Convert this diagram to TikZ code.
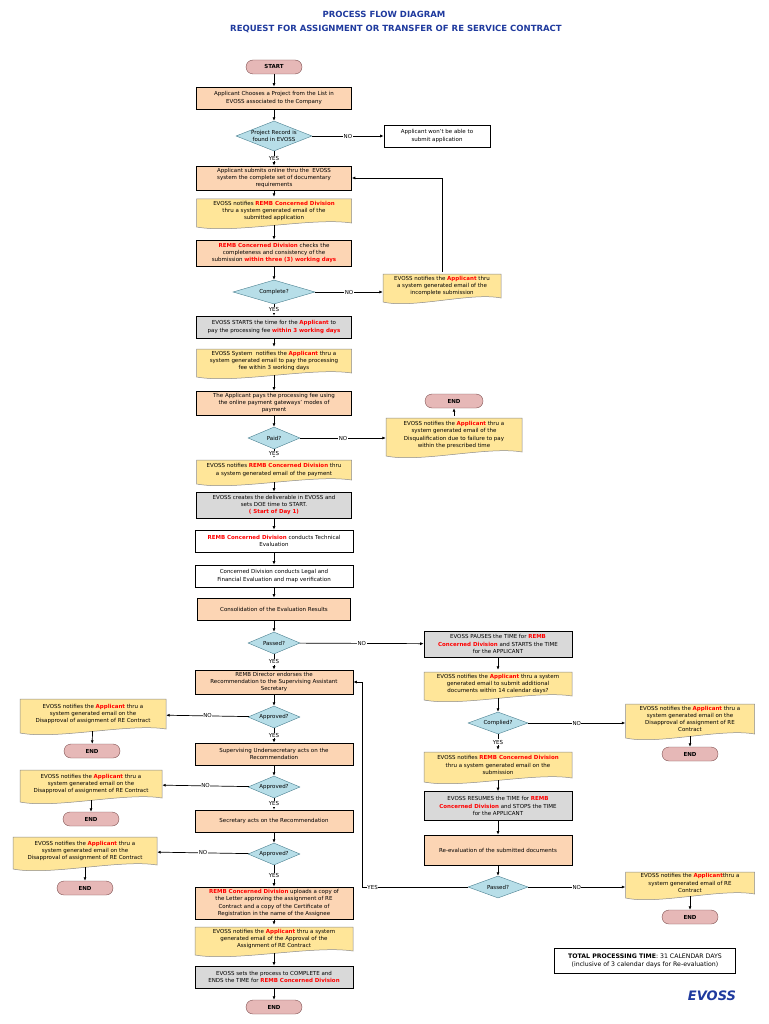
\documentclass[tikz,border=0pt]{standalone}
\usepackage{fontspec}
\setmainfont{DejaVu Sans}
\usepackage{xcolor}
\usetikzlibrary{arrows.meta,positioning,shapes.geometric,calc}
\definecolor{procfill}{HTML}{FCD5B4}
\definecolor{docfill}{HTML}{FFE699}
\definecolor{docline}{HTML}{8C8C8C}
\definecolor{greyfill}{HTML}{D9D9D9}
\definecolor{termfill}{HTML}{E6B8B7}
\definecolor{termline}{HTML}{7F5050}
\definecolor{decfill}{HTML}{B7DEE8}
\definecolor{decline}{HTML}{4A7F8F}
\definecolor{titleblue}{HTML}{1F3A9E}
\definecolor{hlred}{HTML}{FF0000}
\newcommand{\hl}[1]{\textcolor{hlred}{\textbf{#1}}}
\newcommand{\docnode}[5]{%
  \begin{scope}[shift={(#2)}]
    \filldraw[draw=docline, fill=docfill, line width=0.5pt]
      (-#3/2,-#4/2) -- (#3/2,-#4/2) -- (#3/2,#4/2-4)
      .. controls (#3/4,#4/2-10) and (-#3/4,#4/2+7) .. (-#3/2,#4/2) -- cycle;
  \end{scope}
  \node[doctext, minimum width=#3, minimum height=#4] (#1) at (#2) {#5};}
\tikzset{
  txt/.style={font=\fontsize{5.5}{7.2}\selectfont, align=center, inner sep=1pt},
  proc/.style={txt, draw, line width=0.6pt, fill=procfill, minimum width=155, minimum height=22},
  gproc/.style={proc, fill=greyfill},
  wproc/.style={proc, fill=white},
  doctext/.style={txt, yshift=2pt},
  term/.style={txt, draw=termline, fill=termfill, rounded corners=7pt, minimum width=56, minimum height=14, font=\fontsize{5.5}{7}\selectfont\bfseries},
  dec/.style={diamond, draw=decline, fill=decfill, inner sep=0pt, minimum width=56, minimum height=22},
  declab/.style={font=\fontsize{5.5}{6.2}\selectfont, align=center},
  lbl/.style={fill=white, inner sep=0.5pt, font=\fontsize{5.5}{6}\selectfont},
  arr/.style={-{Latex[length=3.5pt,width=3pt]}, line width=0.7pt}
}
\begin{document}
\begin{tikzpicture}[x=1pt, y=-1pt]
  \useasboundingbox[fill=white] (0,0) rectangle (768,1024);
  % title
  \node[font=\fontsize{8.5}{10}\selectfont\bfseries, text=titleblue] (title1) at (384,14) {PROCESS FLOW DIAGRAM};
  \node[font=\fontsize{8.5}{10}\selectfont\bfseries, text=titleblue] (title2) at (396,29) {REQUEST FOR ASSIGNMENT OR TRANSFER OF RE SERVICE CONTRACT};
  % main column
  \node[term] (start) at (274,67) {START};
  \node[proc] (choose) at (274,98) {Applicant Chooses a Project from the List in\\EVOSS associated to the Company};
  \node[dec, minimum width=76, minimum height=30, label={[declab]center:Project Record is\\found in EVOSS}] (found) at (274,136) {};
  \node[wproc, minimum width=106] (noapp) at (437,136) {Applicant won't be able to\\submit application};
  \node[proc, minimum height=24] (submit) at (274,178) {Applicant submits online thru the\ \ EVOSS\\system the complete set of documentary\\requirements};
  \docnode{notify1}{274,213}{155}{28}{EVOSS notifies \hl{REMB Concerned Division}\\thru a system generated email of the\\submitted application}
  \node[proc, minimum height=26] (check) at (274,253) {\hl{REMB Concerned Division} checks the\\completeness and consistency of the\\submission \hl{within three (3) working days}};
  \node[dec, minimum width=82, minimum height=24, label={[declab]center:Complete?}] (complete) at (274,292) {};
  \docnode{incomplete}{442,288}{118}{28}{EVOSS notifies the \hl{Applicant} thru\\a system generated email of the\\incomplete submission}
  \node[gproc] (startfee) at (274,327) {EVOSS STARTS the time for the \hl{Applicant} to\\pay the processing fee \hl{within 3 working days}};
  \docnode{notify2}{274,363}{155}{28}{EVOSS System\ \ notifies the \hl{Applicant} thru a\\system generated email to pay the processing\\fee within 3 working days}
  \node[proc, minimum height=24] (pays) at (274,403) {The Applicant pays the processing fee using\\the online payment gateways' modes of\\payment};
  \node[dec, minimum width=52, label={[declab]center:Paid?}] (paid) at (274,438) {};
  \docnode{disq}{454,437}{136}{38}{EVOSS notifies the \hl{Applicant} thru a\\system generated email of the\\Disqualification due to failure to pay\\within the prescribed time}
  \node[term, minimum width=58] (end1) at (454,401) {END};
  \docnode{notify3}{274,472}{155}{24}{EVOSS notifies \hl{REMB Concerned Division} thru\\a system generated email of the payment}
  \node[gproc, minimum height=26] (deliver) at (274,505) {EVOSS creates the deliverable in EVOSS and\\sets DOE time to START.\\\hl{( Start of Day 1)}};
  \node[wproc, minimum width=158] (techeval) at (274,541) {\hl{REMB Concerned Division} conducts Technical\\Evaluation};
  \node[wproc, minimum width=158] (legaleval) at (274,576) {Concerned Division conducts Legal and\\Financial Evaluation and map verification};
  \node[proc, minimum width=153] (consol) at (274,609) {Consolidation of the Evaluation Results};
  \node[dec, minimum width=52, label={[declab]center:Passed?}] (passed) at (274,643) {};
  \node[proc, minimum width=158, minimum height=24] (director) at (274,682) {REMB Director endorses the\\Recommendation to the Supervising Assistant\\Secretary};
  \node[dec, minimum width=52, label={[declab]center:Approved?}] (appr1) at (274,717) {};
  \node[proc, minimum width=158] (usec) at (274,754) {Supervising Undersecretary acts on the\\Recommendation};
  \node[dec, minimum width=52, label={[declab]center:Approved?}] (appr2) at (274,787) {};
  \node[proc, minimum width=158] (sec) at (274,821) {Secretary acts on the Recommendation};
  \node[dec, minimum width=52, label={[declab]center:Approved?}] (appr3) at (274,854) {};
  \node[proc, minimum width=158, minimum height=32] (upload) at (274,903) {\hl{REMB Concerned Division} uploads a copy of\\the Letter approving the assignment of RE\\Contract and a copy of the Certificate of\\Registration in the name of the Assignee};
  \docnode{notify4}{274,941}{158}{28}{EVOSS notifies the \hl{Applicant} thru a system\\generated email of the Approval of the\\Assignment of RE Contract}
  \node[gproc, minimum width=158] (complete2) at (274,977) {EVOSS sets the process to COMPLETE and\\ENDS the TIME for \hl{REMB Concerned Division}};
  \node[term] (end2) at (274,1007) {END};
  % left column
  \docnode{disap1}{93,716}{146}{34}{EVOSS notifies the \hl{Applicant} thru a\\system generated email on the\\Disapproval of assignment of RE Contract}
  \node[term] (end3) at (92,751) {END};
  \docnode{disap2}{91,786}{142}{32}{EVOSS notifies the \hl{Applicant} thru a\\system generated email on the\\Disapproval of assignment of RE Contract}
  \node[term] (end4) at (91,819) {END};
  \docnode{disap3}{85,853}{144}{32}{EVOSS notifies the \hl{Applicant} thru a\\system generated email on the\\Disapproval of assignment of RE Contract}
  \node[term] (end5) at (85,888) {END};
  % right column
  \node[gproc, minimum width=148, minimum height=26] (pause) at (498,644) {EVOSS PAUSES the TIME for \hl{REMB}\\\hl{Concerned Division} and STARTS the TIME\\for the APPLICANT};
  \docnode{notify5}{498,686}{148}{28}{EVOSS notifies the \hl{Applicant} thru a system\\generated email to submit additional\\documents within 14 calendar days?};
  \node[dec, minimum width=60, label={[declab]center:Complied?}] (complied) at (498,723) {};
  \docnode{disap4}{690,721}{129}{34}{EVOSS notifies the \hl{Applicant} thru a\\system generated email on the\\Disapproval of assignment of RE\\Contract}
  \node[term] (end6) at (690,754) {END};
  \docnode{notify6}{498,767}{148}{30}{EVOSS notifies \hl{REMB Concerned Division}\\thru a system generated email on the\\submission}
  \node[gproc, minimum width=148, minimum height=29] (resume) at (498,806) {EVOSS RESUMES the TIME for \hl{REMB}\\\hl{Concerned Division} and STOPS the TIME\\for the APPLICANT};
  \node[proc, minimum width=148, minimum height=30] (reeval) at (498,850) {Re-evaluation of the submitted documents};
  \node[dec, minimum width=60, label={[declab]center:Passed?}] (passed2) at (498,887) {};
  \docnode{disap5}{690,885}{129}{26}{EVOSS notifies the \hl{Applicant}thru a\\system generated email of RE\\Contract}
  \node[term] (end7) at (690,917) {END};
  \coordinate (loop) at (362,887);
  % total
  \node[draw, line width=0.6pt, minimum width=181, minimum height=25, align=center, inner sep=1pt, font=\fontsize{6.2}{8}\selectfont] (total) at (645,961) {\textbf{TOTAL PROCESSING TIME}: 31 CALENDAR DAYS\\(inclusive of 3 calendar days for Re-evaluation)};
  \node[font=\fontsize{13}{13}\selectfont\bfseries\itshape, text=titleblue] (logo) at (712,996) {EVOSS};
  % connectors
  \draw[arr] (start) -- (choose);
  \draw[arr] (choose) -- (found);
  \draw[arr] (found) -- node[lbl]{NO} (noapp);
  \draw[arr] (found) -- node[lbl]{YES} (submit);
  \draw[arr] (submit) -- (notify1);
  \draw[arr] (notify1) -- (check);
  \draw[arr] (check) -- (complete);
  \draw[arr] (complete) -- node[lbl]{NO} (complete -| incomplete.west);
  \draw[arr] (incomplete.north) |- (submit.east);
  \draw[arr] (complete) -- node[lbl]{YES} (startfee);
  \draw[arr] (startfee) -- (notify2);
  \draw[arr] (notify2) -- (pays);
  \draw[arr] (pays) -- (paid);
  \draw[arr] (paid) -- node[lbl]{NO} (paid -| disq.west);
  \draw[arr] (disq) -- (end1);
  \draw[arr] (paid) -- node[lbl]{YES} (notify3);
  \draw[arr] (notify3) -- (deliver);
  \draw[arr] (deliver) -- (techeval);
  \draw[arr] (techeval) -- (legaleval);
  \draw[arr] (legaleval) -- (consol);
  \draw[arr] (consol) -- (passed);
  \draw[arr] (passed) -- node[lbl]{NO} (pause);
  \draw[arr] (passed) -- node[lbl]{YES} (director);
  \draw[arr] (director) -- (appr1);
  \draw[arr] (appr1) -- node[lbl]{NO} (disap1);
  \draw[arr] (disap1) -- (end3);
  \draw[arr] (appr1) -- node[lbl]{YES} (usec);
  \draw[arr] (usec) -- (appr2);
  \draw[arr] (appr2) -- node[lbl]{NO} (disap2);
  \draw[arr] (disap2) -- (end4);
  \draw[arr] (appr2) -- node[lbl]{YES} (sec);
  \draw[arr] (sec) -- (appr3);
  \draw[arr] (appr3) -- node[lbl]{NO} (disap3);
  \draw[arr] (disap3) -- (end5);
  \draw[arr] (appr3) -- node[lbl]{YES} (upload);
  \draw[arr] (upload) -- (notify4);
  \draw[arr] (notify4) -- (complete2);
  \draw[arr] (complete2) -- (end2);
  \draw[arr] (pause) -- (notify5);
  \draw[arr] (notify5) -- (complied);
  \draw[arr] (complied) -- node[lbl]{NO} (complied -| disap4.west);
  \draw[arr] (disap4) -- (end6);
  \draw[arr] (complied) -- node[lbl]{YES} (notify6);
  \draw[arr] (notify6) -- (resume);
  \draw[arr] (resume) -- (reeval);
  \draw[arr] (reeval) -- (passed2);
  \draw[arr] (passed2) -- node[lbl]{NO} (passed2 -| disap5.west);
  \draw[arr] (disap5) -- (end7);
  \draw[line width=0.7pt] (passed2) -- node[lbl, pos=0.9]{YES} (loop);
  \draw[arr] (loop) |- (director.east);
\end{tikzpicture}
\end{document}
